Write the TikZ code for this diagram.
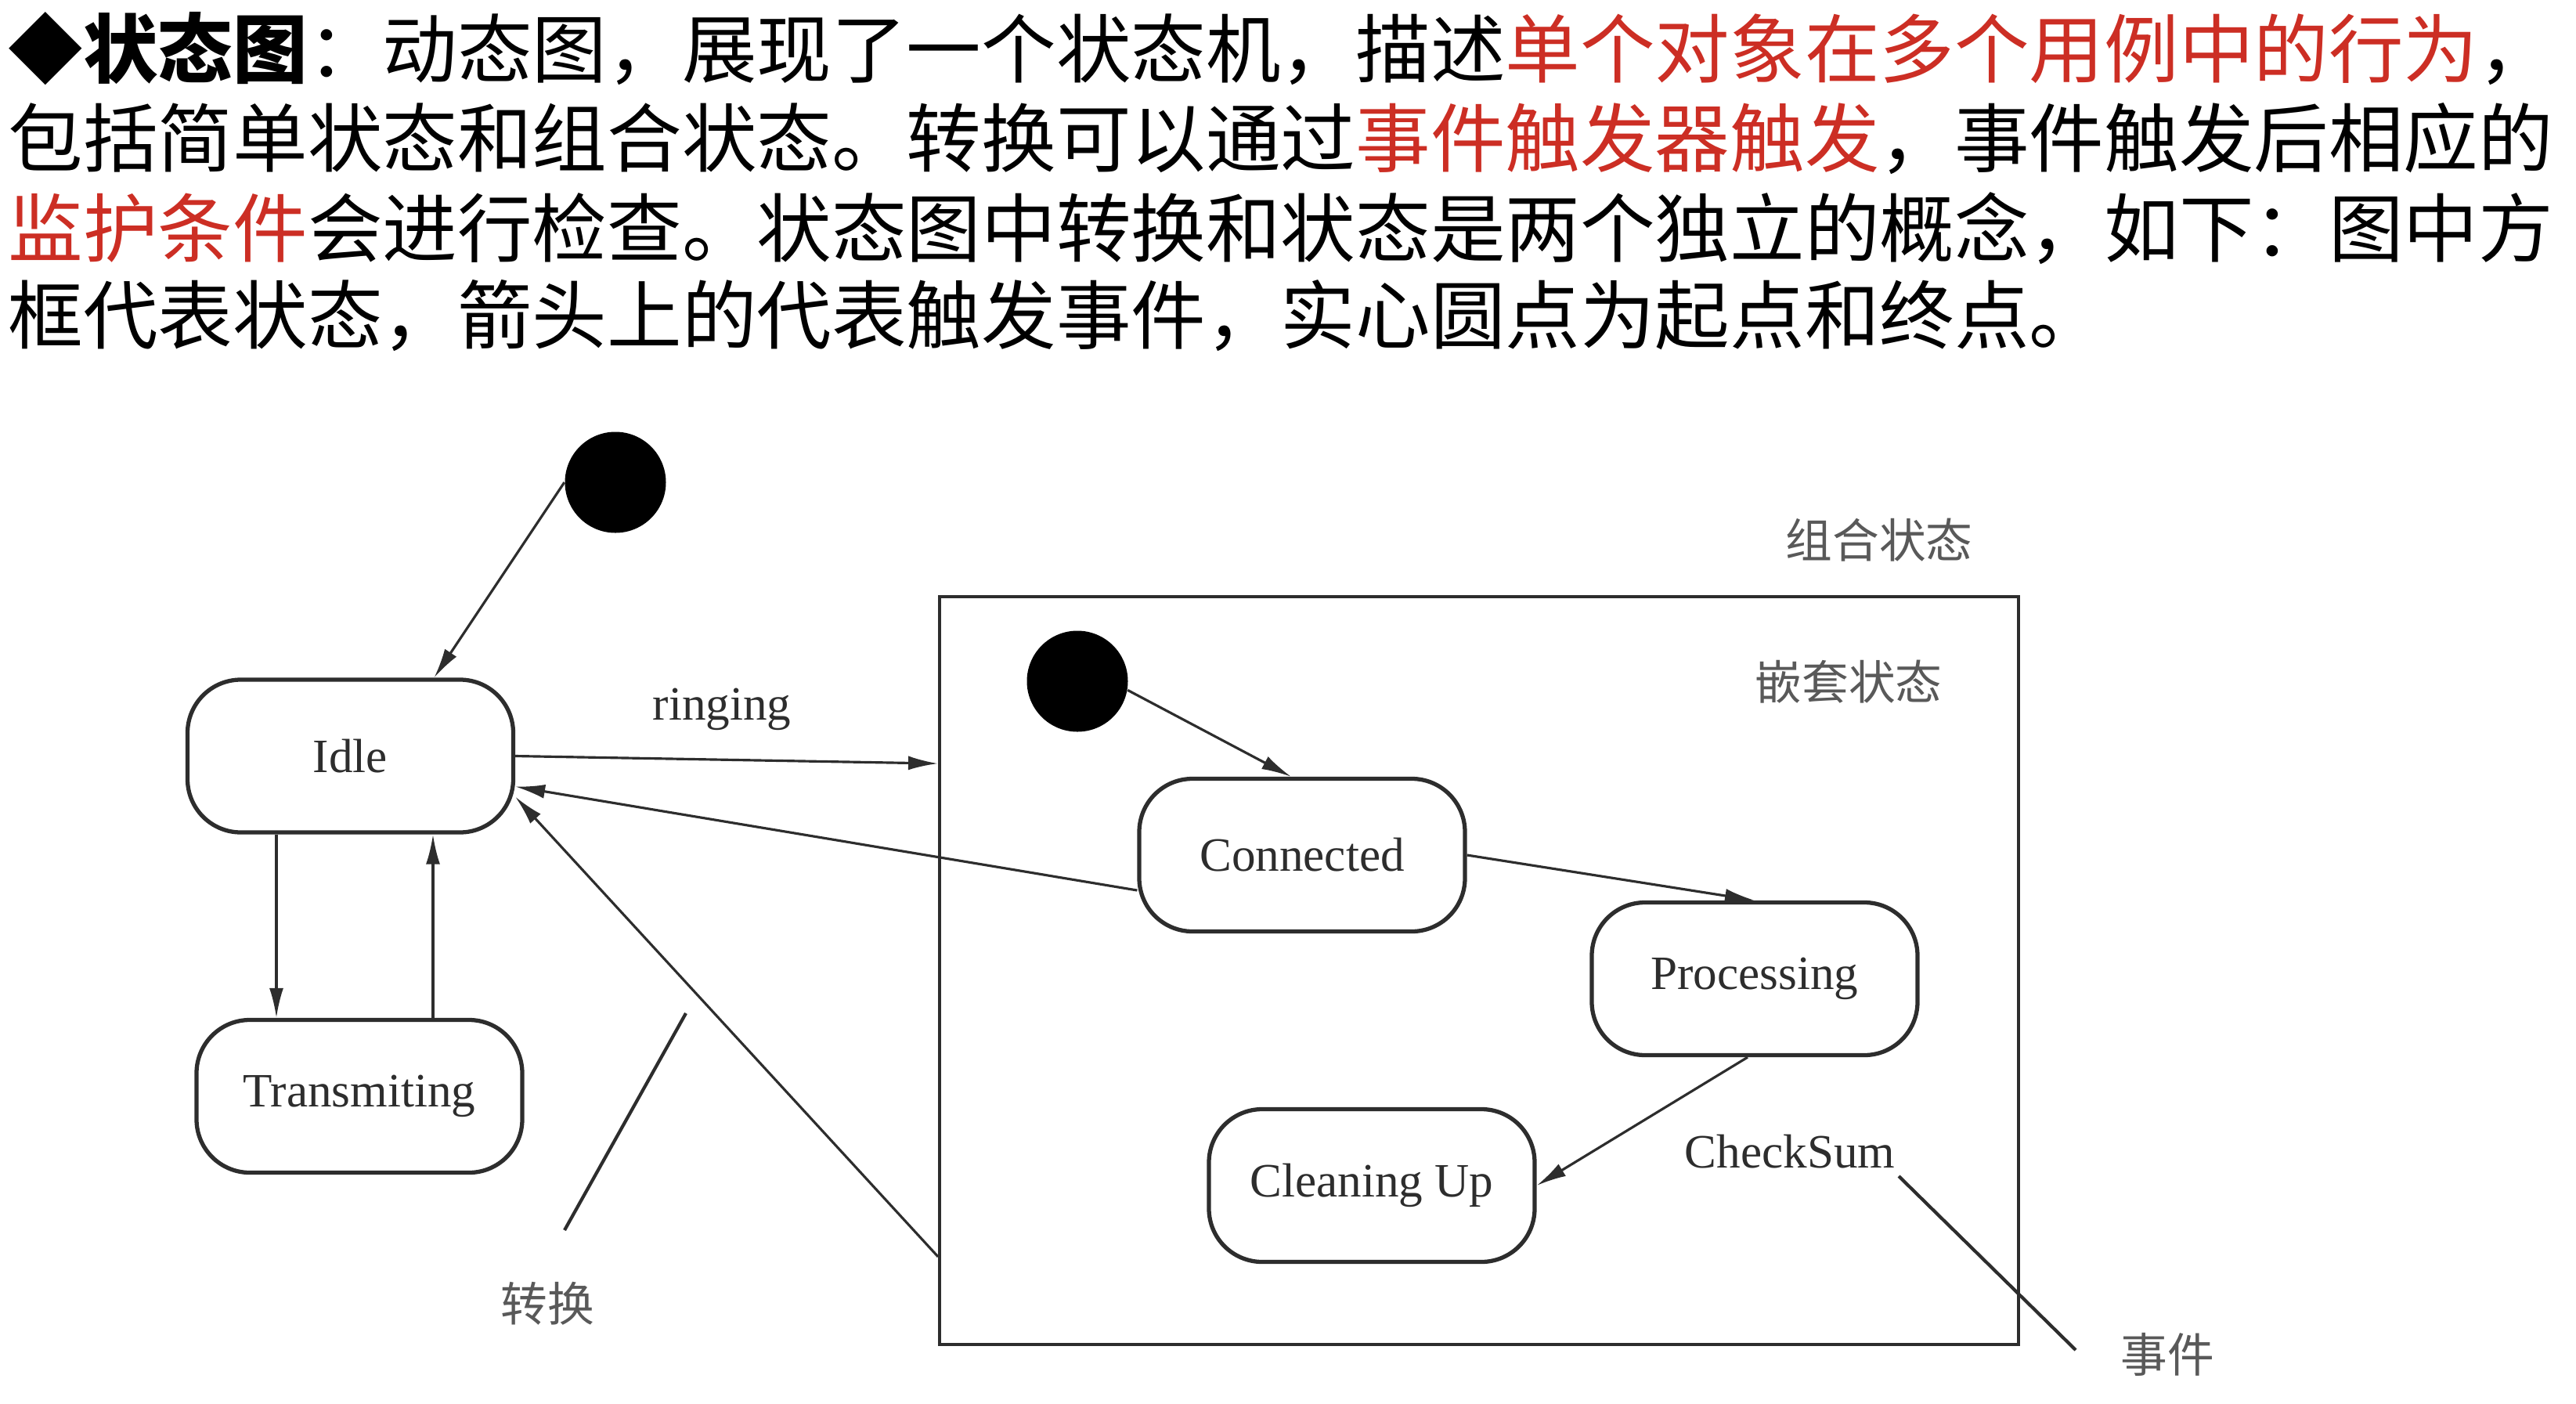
\documentclass[tikz,border=0pt]{standalone}
\usepackage{fontspec}
\setmainfont{Liberation Serif}
\newfontfamily\cjkfont{Noto Sans CJK SC}
\usetikzlibrary{arrows.meta}
\definecolor{keyred}{RGB}{204,46,36}
\definecolor{inkgray}{RGB}{45,45,45}
\newcommand{\statefont}{\fontsize{17.4pt}{20pt}\selectfont}
\newcommand{\notefont}{\cjkfont\fontsize{17pt}{20pt}\selectfont}
\newcommand{\introfont}{\cjkfont\fontsize{27.2pt}{30pt}\selectfont}
\tikzset{
  statebox/.style={draw=inkgray, line width=1.5pt, rounded corners=0.68cm,
    minimum width=4.16cm, minimum height=1.95cm, inner sep=0pt,
    font=\statefont, text=inkgray},
  startdot/.style={circle, fill=black, minimum size=1.29cm, inner sep=0pt},
  transarrow/.style={draw=inkgray, line width=0.9pt,
    -{Latex[length=0.38cm,width=0.18cm]}},
  evlabel/.style={inner sep=0pt, font=\statefont, text=inkgray},
  cjklabel/.style={inner sep=0pt, font=\notefont, text=black!65},
  pointer/.style={draw=inkgray, line width=1.2pt},
  introline/.style={anchor=base west, inner sep=0pt, font=\introfont}
}
\begin{document}
\begin{tikzpicture}
  \useasboundingbox (0,0) rectangle (32.90,-17.92);
  % Intro text
  \node[introline] (intro1) at (0.10,-0.98) {◆\textbf{状态图}：动态图，展现了一个状态机，描述\textcolor{keyred}{单个对象在多个用例中的行为}，};
  \node[introline] (intro2) at (0.10,-2.12) {包括简单状态和组合状态。转换可以通过\textcolor{keyred}{事件触发器触发}，事件触发后相应的};
  \node[introline] (intro3) at (0.10,-3.27) {\textcolor{keyred}{监护条件}会进行检查。状态图中转换和状态是两个独立的概念，如下：图中方};
  \node[introline] (intro4) at (0.10,-4.38) {框代表状态，箭头上的代表触发事件，实心圆点为起点和终点。};
  % Outer states
  \node[startdot] (init1) at (7.86,-6.16) {};
  \node[statebox] (idle) at (4.475,-9.655) {Idle};
  \node[statebox] (transmit) at (4.59,-14.00) {Transmiting};
  % Composite state
  \node[draw=inkgray, line width=1.1pt, minimum width=13.78cm,
    minimum height=9.55cm, inner sep=0pt] (comp) at (18.89,-12.395) {};
  \node[cjklabel] (complbl) at (24.00,-6.90) {组合状态};
  \node[cjklabel] (nestlbl) at (23.61,-8.71) {嵌套状态};
  \node[startdot] (init2) at (13.76,-8.70) {};
  \node[statebox] (conn) at (16.63,-10.92) {Connected};
  \node[statebox] (proc) at (22.41,-12.50) {Processing};
  \node[statebox] (clean) at (17.52,-15.14) {Cleaning Up};
  % Transitions
  \coordinate (downx) at (3.53,0);
  \coordinate (upx) at (5.53,0);
  \draw[transarrow] (init1.west) -- ([xshift=1.07cm]idle.north);
  \draw[transarrow] (idle.south -| downx) -- (transmit.north -| downx);
  \draw[transarrow] (transmit.north -| upx) -- (idle.south -| upx);
  \draw[transarrow] (idle.east) -- ([yshift=-2.15cm]comp.north west);
  \node[evlabel] (ringing) at (9.22,-9.06) {ringing};
  \draw[transarrow] ([yshift=-0.45cm]conn.west) -- ([yshift=-0.39cm]idle.east);
  \draw[transarrow] ([yshift=1.14cm]comp.south west) -- ([yshift=-0.52cm]idle.east);
  \draw[transarrow] (init2.-10) -- ([xshift=-0.14cm]conn.north);
  \draw[transarrow] (conn.east) -- (proc.north);
  \draw[transarrow] ([xshift=-0.09cm]proc.south) -- (clean.east);
  \node[evlabel] (checksum) at (22.86,-14.71) {CheckSum};
  % Callouts
  \coordinate (transtop) at (8.76,-12.94);
  \coordinate (transfoot) at (7.21,-15.71);
  \draw[pointer] (transtop) -- (transfoot);
  \node[cjklabel] (translbl) at (6.99,-16.65) {转换};
  \coordinate (evtop) at (24.25,-15.02);
  \coordinate (evfoot) at (26.51,-17.24);
  \draw[pointer] (evtop) -- (evfoot);
  \node[cjklabel] (eventlbl) at (27.68,-17.30) {事件};
\end{tikzpicture}
\end{document}
